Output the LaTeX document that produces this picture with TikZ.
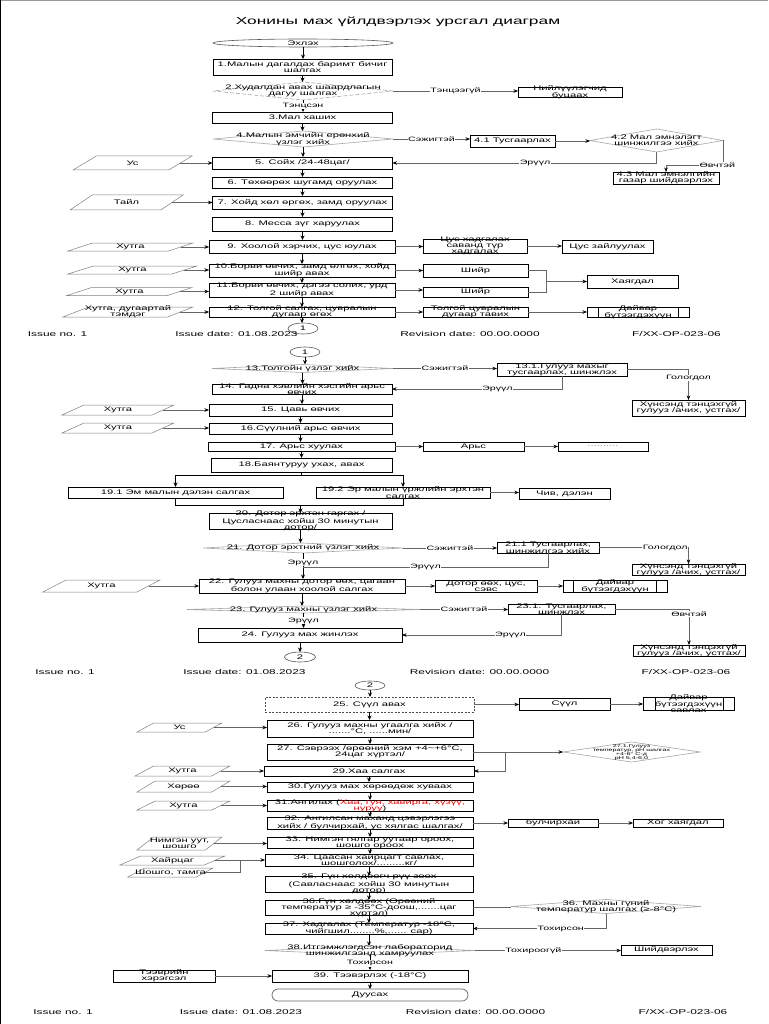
\documentclass[tikz,border=0pt]{standalone}
\usepackage{fontspec}
\setmainfont{Liberation Sans}[FakeStretch=1.7]
\usetikzlibrary{shapes.geometric,arrows.meta,calc}
\begin{document}
\begin{tikzpicture}[x=1pt,y=-1pt,
  box/.style={draw=black, line width=0.7pt, rectangle, inner sep=0pt, outer sep=0pt},
  wh/.style 2 args={minimum width=#1, minimum height=#2},
  lt/.style={font=\fontsize{6.6}{6.2}\selectfont, align=center, inner sep=0pt, text=black},
  T/.style={label={[lt]center:{#1}}},
  dbox/.style={box, draw=black!70, line width=0.6pt, dash pattern=on 2pt off 1.5pt},
  dia/.style={shape=diamond, draw=black!35, line width=0.6pt, inner sep=0pt, outer sep=0pt},
  io/.style={trapezium, trapezium left angle=35, trapezium right angle=145, trapezium stretches=true, draw=black!50, line width=0.5pt, inner sep=0pt, outer sep=0pt, font=\fontsize{2}{2}\selectfont},
  oval/.style={ellipse, draw=black!65, line width=0.6pt, inner sep=0pt, outer sep=0pt},
  ar/.style={draw=black, line width=0.9pt, -{Stealth[length=4.5pt,width=4pt]}},
  ml/.style={draw=black, line width=0.7pt},
  sa/.style={draw=black!60, line width=0.5pt, -{Stealth[length=4.5pt,width=3.5pt,color=black]}},
  sl/.style={draw=black!60, line width=0.5pt},
  lb/.style={font=\fontsize{6.3}{6.3}\selectfont, fill=white, inner sep=0.6pt, text=black},
  ft/.style={font=\fontsize{7}{7}\selectfont, inner sep=0pt},
]
\useasboundingbox (0,0) rectangle (768,1024);
\fill[white] (0,0) rectangle (768,1024);
\draw[black!40, line width=1pt] (0,0.5) -- (768,0.5);
\draw[black, line width=1.2pt] (0.6,0) -- (0.6,1024);

\node[font=\fontsize{10.2}{12}\selectfont] (title) at (398,22) {Хонины мах үйлдвэрлэх урсгал диаграм};

% ---------------- Section 1 ----------------
\node[oval, wh={180}{8}, T={Эхлэх}] (start) at (303,43) {};
\node[box, wh={179}{16}, T={1.Малын дагалдах баримт бичиг\\шалгах}] (b1) at (302.5,67) {};
\node[dia, dash pattern=on 4pt off 2pt, wh={180}{18}, T={2.Худалдан авах шаардлагын\\дагуу шалгах}] (d2) at (303,91) {};
\node[box, wh={180}{11}, T={3.Мал хаших}] (b3) at (302.5,117.5) {};
\node[dia, wh={180}{16}, T={4.Малын эмчийн ерөнхий\\үзлэг хийх}] (d4) at (303,139) {};
\node[box, wh={180}{12}, T={5. Сойх /24-48цаг/}] (b5) at (302.5,163) {};
\node[box, wh={180}{11}, T={6. Төхөөрөх шугамд оруулах}] (b6) at (302.5,182.5) {};
\node[box, wh={180}{13}, T={7. Хойд хөл өргөх, замд оруулах}] (b7) at (302.5,202.5) {};
\node[box, wh={180}{14}, T={8. Месса зүг харуулах}] (b8) at (302.5,224) {};
\node[box, wh={186}{13}, T={9. Хоолой хэрчих, цус юулах}] (b9) at (302,246.5) {};
\node[box, wh={186}{13}, T={10.Борви өвчих, замд өлгөх, хойд\\шийр авах}] (b10) at (302,270.5) {};
\node[box, wh={186}{14}, T={11.Борви өвчих, дэгээ солих, урд\\2 шийр авах}] (b11) at (302,290) {};
\node[box, wh={186}{10}, T={12. Толгой салгах, цувралын\\дугаар өгөх}] (b12) at (302,312) {};
\node[oval, wh={30}{11}, T={1}] (c1) at (303,328.5) {};

\node[box, wh={104}{10}, T={Нийлүүлэгчид\\буцаах}] (sup) at (570,92) {};
\node[box, wh={85}{12}, T={4.1 Тусгаарлах}] (b41) at (512.5,141) {};
\node[dia, wh={133}{23}, T={4.2 Мал эмнэлэгт\\шинжилгээ хийх}] (d42) at (656.5,140.5) {};
\node[box, wh={106}{12}, T={4.3 Мал эмнэлгийн\\газар шийдвэрлэх}] (b43) at (666,178) {};
\node[io, wh={119}{14}, T={Ус}] (p5) at (132.5,163) {\phantom{.}};
\node[io, wh={113}{15}, T={Тайл}] (p7) at (126.5,202.5) {\phantom{.}};
\node[io, wh={125}{8}, T={Хутга}] (p9) at (130.5,247) {\phantom{.}};
\node[io, wh={129}{8}, T={Хутга}] (p10) at (132.5,270) {\phantom{.}};
\node[io, wh={125}{8}, T={Хутга}] (p11) at (129.5,291.5) {\phantom{.}};
\node[io, wh={130}{10}, T={Хутга, дугаартай\\тэмдэг}] (p12) at (128,312) {\phantom{.}};
\node[box, wh={104}{14}, T={Цус хадгалах\\саванд түр\\хадгалах}] (cus) at (475,246) {};
\node[box, wh={91}{13}, T={Цус зайлуулах}] (cusz) at (607.5,246.5) {};
\node[box, wh={105}{13}, T={Шийр}] (sh1) at (475.5,270.5) {};
\node[box, wh={105}{10}, T={Шийр}] (sh2) at (475.5,292) {};
\node[box, wh={91}{13}, T={Хаягдал}] (xay) at (632.5,281.5) {};
\node[box, wh={105}{10}, T={Толгой цувралын\\дугаар тавих}] (tol) at (475.5,312) {};
\node[box, wh={102}{10}, T={Дайвар\\бүтээгдэхүүн}] (dv1) at (638,312) {};
\draw[line width=0.6pt] ([xshift=11pt]dv1.north west) -- ([xshift=11pt]dv1.south west);
\draw[line width=0.6pt] ([xshift=-11pt]dv1.north east) -- ([xshift=-11pt]dv1.south east);

\draw[ar] (start.south) -- (start.south |- b1.north);
\draw[ar] (b1.south) -- (b1.south |- d2.north);
\draw[ar] (d2.south) -- node[lb]{Тэнцсэн} (d2.south |- b3.north);
\draw[ar] (b3.south) -- (b3.south |- d4.north);
\draw[ar] (d4.south) -- (d4.south |- b5.north);
\draw[ar] (b5.south) -- (b5.south |- b6.north);
\draw[ar] (b6.south) -- (b6.south |- b7.north);
\draw[ar] (b7.south) -- (b7.south |- b8.north);
\draw[ar] (b8.south) -- (b8.south |- b9.north);
\draw[ar] (b9.south) -- (b9.south |- b10.north);
\draw[ar] (b10.south) -- (b10.south |- b11.north);
\draw[ar] (b11.south) -- (b11.south |- b12.north);
\draw[ar] (b12.south) -- (b12.south |- c1.north);

\draw[sa] (d2.east) -- node[lb]{Тэнцээгүй} (d2.east -| sup.west);
\draw[sa] (d4.east) -- node[lb]{Сэжигтэй} (d4.east -| b41.west);
\draw[sa] (b41.east) -- (b41.east -| d42.west);
\draw[sa] (d42.south) |- node[lb,pos=0.73]{Эрүүл} (b5.east);
\draw[sa] (d42.east) |- node[lb,pos=0.55]{Өвчтэй} ($(b43.north)+(0,-7)$) -- (b43.north);
\draw[sa] (p5.east) -- (p5.east -| b5.west);
\draw[sa] (p7.east) -- (p7.east -| b7.west);
\draw[sa] (p9.east) -- (p9.east -| b9.west);
\draw[sa] (p10.east) -- (p10.east -| b10.west);
\draw[sa] (p11.east) -- (p11.east -| b11.west);
\draw[sa] (p12.east) -- (p12.east -| b12.west);
\draw[sa] (b9.east) -- (b9.east -| cus.west);
\draw[sa] (cus.east) -- (cus.east -| cusz.west);
\draw[sa] (b10.east) -- (b10.east -| sh1.west);
\draw[sa] (b11.east) -- (b11.east -| sh2.west);
\coordinate (j1) at (546,281.5);
\draw[sl] (sh1.east) -| (j1);
\draw[sl] (sh2.east) -| (j1);
\draw[sa] (j1) -- (j1 -| xay.west);
\draw[sa] (b12.east) -- (b12.east -| tol.west);
\draw[sa] (tol.east) -- (tol.east -| dv1.west);

\node[ft] (f1a) at (57.5,334) {Issue no. 1};
\node[ft] (f1b) at (236.5,334) {Issue date: 01.08.2023};
\node[ft] (f1c) at (470,334) {Revision date: 00.00.0000};
\node[ft] (f1d) at (676.5,334) {F/XX-OP-023-06};

% ---------------- Section 2 ----------------
\node[oval, wh={30}{10}, T={1}] (c1b) at (305,352) {};
\node[dia, wh={181}{8}, T={13.Толгойн үзлэг хийх}] (d13) at (302.5,368.5) {};
\node[box, wh={180}{10}, T={14. Гадна хэвлийн хэсгийн арьс\\өвчих}] (b14) at (302,389) {};
\node[box, wh={183}{12}, T={15. Цавь өвчих}] (b15) at (300.5,410) {};
\node[box, wh={183}{11}, T={16.Сүүлний арьс өвчих}] (b16) at (300.5,428.5) {};
\node[box, wh={187}{9}, T={17. Арьс хуулах}] (b17) at (301.5,446.5) {};
\node[box, wh={181}{14}, T={18.Баянтуруу ухах, авах}] (b18) at (301.5,465) {};
\node[box, wh={215}{11}, T={19.1 Эм малын дэлэн салгах}] (b191) at (175.5,492.5) {};
\node[box, wh={174}{11}, T={19.2 Эр малын үржлийн эрхтэн\\салгах}] (b192) at (403,492.5) {};
\node[box, wh={183}{16}, T={20. Дотор эрхтэн гаргах  /\\Цусласнаас хойш 30 минутын\\дотор/}] (b20) at (300.5,521) {};
\node[dia, wh={200}{10}, T={21. Дотор эрхтний үзлэг хийх}] (d21) at (303,548) {};
\node[box, wh={206}{14}, T={22. Гулууз махны дотор өөх, цагаан\\болон улаан хоолой салгах}] (b22) at (302,586) {};
\node[dia, wh={233}{7}, T={23. Гулууз махны үзлэг хийх}] (d23) at (303.5,609.5) {};
\node[box, wh={204}{14}, T={24. Гулууз мах жинлэх}] (b24) at (300,635) {};
\node[oval, wh={31}{10}, T={2}] (c2) at (300,657) {};

\node[box, wh={130}{13}, T={13.1.Гулууз махыг\\тусгаарлах, шинжлэх}] (b131) at (562,369.5) {};
\node[box, wh={113}{16}, T={Хүнсэнд тэнцэхгүй\\гулууз /ачих, устгах/}] (rej1) at (688.5,408) {};
\node[io, wh={112}{10}, T={Хутга}] (p15) at (118,410) {\phantom{.}};
\node[io, wh={112}{10}, T={Хутга}] (p16) at (118,428) {\phantom{.}};
\node[box, wh={101}{9}, T={Арьс}] (ars) at (473.5,446.5) {};
\node[box, wh={90}{9}, T={\textcolor{black!50}{..........}}] (dots) at (603,446.5) {};
\node[box, wh={91}{11}, T={Чив, дэлэн}] (chiv) at (564.5,493.5) {};
\node[box, wh={102}{11}, T={21.1 Тусгаарлах,\\шинжилгээ хийх}] (b211) at (548,547.5) {};
\node[box, wh={113}{11}, T={Хүнсэнд тэнцэхгүй\\гулууз /ачих, устгах/}] (rej2) at (688.5,569.5) {};
\node[io, wh={117}{12}, T={Хутга}] (p22) at (101.5,586) {\phantom{.}};
\node[box, wh={102}{12}, T={Дотор өөх, цус,\\сэвс}] (ooh) at (486,586) {};
\node[box, wh={104}{12}, T={Дайвар\\бүтээгдэхүүн}] (dv2) at (615,586) {};
\draw[line width=0.6pt] ([xshift=10pt]dv2.north west) -- ([xshift=10pt]dv2.south west);
\draw[line width=0.6pt] ([xshift=-11pt]dv2.north east) -- ([xshift=-11pt]dv2.south east);
\node[box, wh={107}{10}, T={23.1. Тусгаарлах,\\шинжлэх}] (b231) at (561.5,609) {};
\node[box, wh={112}{11}, T={Хүнсэнд тэнцэхгүй\\гулууз /ачих, устгах/}] (rej3) at (689,650.5) {};

\draw[ar] (c1b.south) -- (c1b.south |- d13.north);
\draw[ar] (d13.south) -- (d13.south |- b14.north);
\draw[ar] (b14.south) -- (b14.south |- b15.north);
\draw[ar] (b15.south) -- (b15.south |- b16.north);
\draw[ar] (b16.south) -- (b16.south |- b17.north);
\draw[ar] (b17.south) -- (b17.south |- b18.north);
\coordinate (spL) at (175.5,475);
\coordinate (spR) at (403,475);
\draw[ml] (b18.south) -- (b18.south |- spL);
\draw[ml] (spL) -- (spR);
\draw[ar] (spL) -- (b191.north);
\draw[ar] (spR) -- (b192.north);
\coordinate (mgL) at (175.5,505);
\coordinate (mgR) at (403,505);
\draw[ml] (b191.south) -- (mgL) -- (mgR) -- (b192.south);
\draw[ar] (b20.north |- mgL) -- (b20.north);
\draw[ar] (b20.south) -- (b20.south |- d21.north);
\draw[ar] (d21.south) -- node[lb,pos=0.38]{Эрүүл} (d21.south |- b22.north);
\draw[ar] (b22.south) -- (b22.south |- d23.north);
\draw[ar] (d23.south) -- node[lb]{Эрүүл} (d23.south |- b24.north);
\draw[ar] (b24.south) -- (b24.south |- c2.north);

\draw[sa] (d13.east) -- node[lb]{Сэжигтэй} (d13.east -| b131.west);
\draw[sa] (b131.south) |- node[lb,pos=0.69]{Эрүүл} (b14.east);
\draw[sa] (b131.east) -| node[lb,pos=0.64]{Гологдол} (rej1.north);
\draw[sa] (p15.east) -- (p15.east -| b15.west);
\draw[sa] (p16.east) -- (p16.east -| b16.west);
\draw[sa] (b17.east) -- (b17.east -| ars.west);
\draw[sa] (ars.east) -- (ars.east -| dots.west);
\draw[sa] (b192.east) -- (b192.east -| chiv.west);
\draw[sa] (d21.east) -- node[lb]{Сэжигтэй} (d21.east -| b211.west);
\coordinate (m21) at (303,567);
\draw[sl] (b211.south) |- node[lb,pos=0.75]{Эрүүл} (m21);
\draw[sa] (b211.east) -| node[lb,pos=0.37]{Гологдол} (rej2.north);
\draw[sa] (p22.east) -- (p22.east -| b22.west);
\draw[sa] (b22.east) -- (b22.east -| ooh.west);
\draw[sa] (ooh.east) -- (ooh.east -| dv2.west);
\draw[sa] (d23.east) -- node[lb]{Сэжигтэй} (d23.east -| b231.west);
\draw[sa] (b231.south) |- node[lb,pos=0.66]{Эрүүл} (b24.east);
\draw[sa] (b231.east) -| node[lb,pos=0.57]{Өвчтэй} (rej3.north);

\node[ft] (f2a) at (65,672) {Issue no. 1};
\node[ft] (f2b) at (244.5,672) {Issue date: 01.08.2023};
\node[ft] (f2c) at (479.5,672) {Revision date: 00.00.0000};
\node[ft] (f2d) at (686,672) {F/XX-OP-023-06};

% ---------------- Section 3 ----------------
\node[oval, wh={30}{9}, T={2}] (c2b) at (370,685.5) {};
\node[dbox, wh={209}{15}, T={25. Сүүл авах}] (b25) at (369.5,704.5) {};
\node[box, wh={206}{17}, T={26. Гулууз махны угаалга хийх /\\.......°C, ......мин/}] (b26) at (370,728.5) {};
\node[box, wh={206}{16}, T={27. Сэврээх /өрөөний хэм +4\textasciitilde+6°C,\\24цаг хүртэл/}] (b27) at (370,752) {};
\node[box, wh={210}{10}, T={29.Хаа салгах}] (b29) at (369,771) {};
\node[box, wh={206}{10}, T={30.Гулууз мах хөрөөдөж хуваах}] (b30) at (370,787) {};
\node[box, wh={206}{11}, T={31.Ангилах (\textcolor{red}{Хаа, гуя, хавирга, хүзүү,}\\\textcolor{red}{нуруу})}] (b31) at (370,805.5) {};
\node[box, wh={206}{12}, T={32. Ангилсан маханд цэвэрлэгээ\\хийх / булчирхай, ус хялгас шалгах/}] (b32) at (370,823) {};
\node[box, wh={206}{11}, T={33. Нимгэн гялгар уутаар ороох,\\шошго ороох}] (b33) at (370,842.5) {};
\node[box, wh={208}{12}, T={34. Цаасан хайрцагт савлах,\\шошголох/.........кг/}] (b34) at (369,860) {};
\node[box, wh={208}{16}, T={35. Гүн хөлдөөгч рүү зөөх\\(Савласнаас хойш 30 минутын\\дотор)}] (b35) at (369,884) {};
\node[box, wh={208}{15}, T={36.Гүн хөлдөөх  (Өрөөний\\температур ≥ -35°C-доош,.......цаг\\хүртэл)}] (b36) at (369,907.5) {};
\node[box, wh={208}{11}, T={37. Хадгалах (Температур -18°C,\\чийгшил........\%,...... сар)}] (b37) at (369,928.5) {};
\node[dia, wh={210}{9}, T={38.Итгэмжлэгдсэн лабораторид\\шинжилгээнд хамруулах}] (d38) at (370,950.5) {};
\node[box, wh={196}{12}, T={39. Тээвэрлэх (-18°C)}] (b39) at (370,976) {};
\node[box, rounded corners=6pt, draw=black!60, wh={196}{12}, T={Дуусах}] (end) at (370,995) {};

\node[box, wh={91}{12}, T={Сүүл}] (suul) at (564.5,704) {};
\node[box, wh={91}{13}, T={Дайвар\\бүтээгдэхүүн\\савлах}] (dv3) at (688.5,703.5) {};
\draw[line width=0.6pt] ([xshift=12pt]dv3.north west) -- ([xshift=12pt]dv3.south west);
\draw[line width=0.6pt] ([xshift=-11pt]dv3.north east) -- ([xshift=-11pt]dv3.south east);
\node[io, wh={85}{9}, T={Ус}] (p26) at (179.5,727.5) {\phantom{.}};
\node[dia, wh={137}{20}, label={[lt, font=\fontsize{4.2}{4}\selectfont]center:{27.1.Гулууз\\температур, pH шалгах\\+4-6° C-д\\pH 5,4-6,0}}] (d271) at (631.5,752) {};
\node[io, wh={95}{10}, T={Хутга}] (p29) at (182.5,771) {\phantom{.}};
\node[io, wh={93}{11}, T={Хөрөө}] (p30) at (183.5,786.5) {\phantom{.}};
\node[io, wh={93}{9}, T={Хутга}] (p31) at (183.5,805.5) {\phantom{.}};
\node[box, wh={90}{8}, T={булчирхай}] (bul) at (553,823) {};
\node[box, wh={90}{8}, T={Хог хаягдал}] (hog) at (678,823) {};
\node[io, wh={85}{13}, T={Нимгэн уут,\\шошго}] (p33) at (179.5,843.5) {\phantom{.}};
\node[io, wh={105}{9}, T={Хайрцаг}] (p34a) at (172.5,860.5) {\phantom{.}};
\node[io, wh={85}{9}, T={Шошго, тамга}] (p34b) at (170.5,872.5) {\phantom{.}};
\node[dia, wh={190}{14}, T={36. Махны гүний\\температур шалгах (≥-8°C)}] (d36) at (606,906.5) {};
\node[box, wh={91}{10}, T={Шийдвэрлэх}] (shiid) at (666.5,950) {};
\node[box, wh={102}{12}, T={Тээврийн\\хэрэгсэл}] (teevr) at (164,976) {};

\draw[ar] (c2b.south) -- (c2b.south |- b25.north);
\draw[ar] (b25.south) -- (b25.south |- b26.north);
\draw[ar] (b26.south) -- (b26.south |- b27.north);
\draw[ar] (b29.south) -- (b29.south |- b30.north);
\draw[ar] (b30.south) -- (b30.south |- b31.north);
\draw[ar] (b31.south) -- (b31.south |- b32.north);
\draw[ar] (b32.south) -- (b32.south |- b33.north);
\draw[ar] (b33.south) -- (b33.south |- b34.north);
\draw[ar] (b34.south) -- (b34.south |- b35.north);
\draw[ar] (b35.south) -- (b35.south |- b36.north);
\draw[ar] (b36.south) -- (b36.south |- b37.north);
\draw[ar] (b37.south) -- (b37.south |- d38.north);
\draw[ar] (d38.south) -- node[lb,pos=0.55]{Тохирсон} (d38.south |- b39.north);
\draw[ar] (b39.south) -- (b39.south |- end.north);

\draw[sa] (b25.east) -- (b25.east -| suul.west);
\draw[sa] (suul.east) -- (suul.east -| dv3.west);
\draw[sa] (p26.east) -- (p26.east -| b26.west);
\coordinate (j27) at (505,752);
\draw[sl] (b27.east) -- (j27);
\draw[sa] (j27) -- (d271.west);
\draw[sa] (j27) |- (b29.east);
\draw[sa] (p29.east) -- (p29.east -| b29.west);
\draw[sa] (p30.east) -- (p30.east -| b30.west);
\draw[sa] (p31.east) -- (p31.east -| b31.west);
\draw[sa] (b32.east) -- (b32.east -| bul.west);
\draw[sa] (bul.east) -- (bul.east -| hog.west);
\draw[sa] (p33.east) -- (p33.east -| b33.west);
\coordinate (j34) at (240,860);
\draw[sl] (p34a.east) -- (p34a.east -| j34);
\draw[sl] (p34b.east) -| (j34);
\draw[sa] (j34) -- (j34 -| b34.west);
\draw[sl] (b36.east) -- (b36.east -| d36.west);
\draw[sa] (d36.south) |- node[lb,pos=0.67]{Тохирсон} (b37.east);
\draw[sa] (d38.east) -- node[lb,pos=0.4]{Тохироогүй} (d38.east -| shiid.west);
\draw[sa] (teevr.east) -- (teevr.east -| b39.west);

\node[ft] (f3a) at (63,1012) {Issue no. 1};
\node[ft] (f3b) at (241,1012) {Issue date: 01.08.2023};
\node[ft] (f3c) at (475.5,1012) {Revision date: 00.00.0000};
\node[ft] (f3d) at (683,1012) {F/XX-OP-023-06};
\end{tikzpicture}
\end{document}
